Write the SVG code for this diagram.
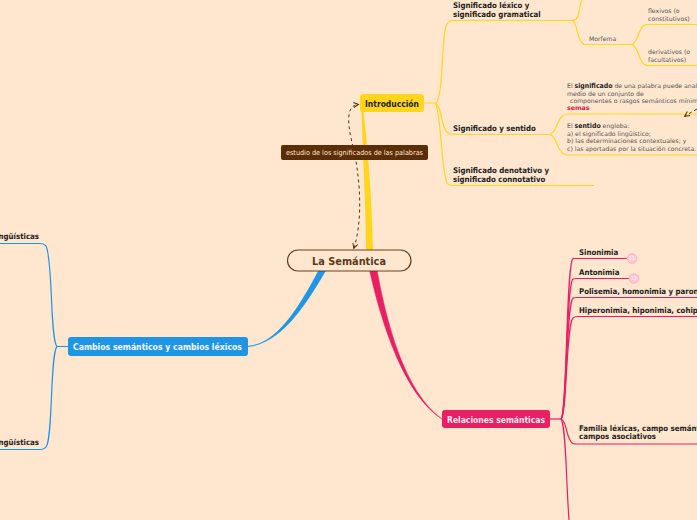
<svg xmlns="http://www.w3.org/2000/svg" width="697" height="520" viewBox="0 0 697 520">
<defs>
<marker id="arr" markerWidth="7" markerHeight="7" refX="5" refY="3" orient="auto-start-reverse" markerUnits="userSpaceOnUse"><path d="M0.5 0.500L5.500 3L0.500 5.500" fill="none" stroke="#5c2e07" stroke-width="1"/></marker>
</defs>
<style>
text{font-family:"DejaVu Sans",sans-serif}
.y{fill:none;stroke:#ffd61a;stroke-width:1.2}
.r{fill:none;stroke:#e91e63;stroke-width:1.2}
.b{fill:none;stroke:#1e96e8;stroke-width:1.2}
.h{font-family:"DejaVu Sans Condensed","DejaVu Sans",sans-serif;font-stretch:condensed;font-size:7.800px;font-weight:700;fill:#222}
.s{font-size:6.150px;fill:#555}
.sb{font-family:"DejaVu Sans Condensed","DejaVu Sans",sans-serif;font-stretch:condensed;font-size:6.900px;font-weight:700;fill:#222}
.badge{fill:#ffc8d6;stroke:#ffb0c6;stroke-width:1}
.bt{font-size:5px;fill:#fff;text-anchor:middle}
</style>
<rect width="697" height="520" fill="#ffe6cf"/>
<g id="connectors">
<path d="M361.500 112C363 160 366 210 366 252L373 252C372 200 368 150 363.500 112Z" fill="#ffd61a"/>
<path d="M326 270C306 304 282 343 248 346.500C276 344 298 310 319 270Z" fill="#1e96e8" stroke="#1e96e8" stroke-width="0.700"/>
<path d="M377 270C386 320 404 392 442 419C404 395 381 322 369.500 270Z" fill="#e91e63" stroke="#e91e63" stroke-width="0.500"/>
<path class="y" d="M424 103H435C444 103 441 30 447 24Q449 20.500 453 20.500H572C581 20.500 578 5 583 -2"/>
<path class="y" d="M435 103C442 105 441 128 447 132Q449 134.500 453 134.500H550"/>
<path class="y" d="M435 103C441 108 441 170 447 183Q449 185.500 453 185.500H594"/>
<path class="y" d="M572 20.500C578 22 576 40 584 44.500H632C640 40 638 24 648 24.500H697"/>
<path class="y" d="M632 44.500C640 48 638 65 648 65.500H697"/>
<path class="y" d="M550 134.500C558 132 556 115 568 114H697"/>
<path class="y" d="M550 134.500C558 137 556 154 568 155H697"/>
<path d="M550 419H561" class="r"/>
<path d="M561 419C567 415 566 264 573 258.500Q575 258.500 577 258.500H627" class="r"/>
<path d="M561 419C567 415 566 284 573 279Q575 278.500 577 278.500H629" class="r"/>
<path d="M561 419C567 415 566 305 573 298Q575 297.500 577 297.500H697" class="r"/>
<path d="M561 419C567 415 566 325 573 318Q575 316.500 577 316.500H697" class="r"/>
<path d="M561 419C567 420 566 440 573 443.500Q575 444 577 444H697" class="r"/>
<path d="M561 419C566 425 566 480 569 520" class="r"/>
<path class="b" d="M68 346.500H57C50 340 53 260 46 246Q44 243.500 40 243.500H0"/>
<path class="b" d="M57 346.500C50 353 53 440 46 447Q44 449.500 40 449.500H0"/>
<path d="M354 248C361 225 361 195 357 168C355 150 347 130 349 115C350 107 354 105 358 104.500" fill="none" stroke="#5c2e07" stroke-width="1" stroke-dasharray="3 3" marker-start="url(#arr)" marker-end="url(#arr)"/>
<path d="M697 109C692 112 688 114 685 116" fill="none" stroke="#5c2e07" stroke-width="1" stroke-dasharray="3 3" marker-end="url(#arr)"/>
</g>
<g id="central"><rect x="287.500" y="250" width="123.500" height="21" rx="10.500" fill="#ffe6cf" stroke="#6b3f1a" stroke-width="1.200"/><text x="349" y="264.500" text-anchor="middle" font-size="10.800" font-weight="700" fill="#5c3a1a" textLength="74" lengthAdjust="spacingAndGlyphs">La Semántica</text></g>
<g id="introduccion"><rect x="360" y="94" width="64" height="18" rx="3" fill="#ffd61a"/><text x="365" y="106.500" font-size="9.500" font-weight="700" fill="#222" textLength="54" lengthAdjust="spacingAndGlyphs">Introducción</text></g>
<g id="label"><rect x="281" y="145" width="147" height="15" rx="2" fill="#5c2e07"/><text x="286" y="155.200" font-size="7" fill="#ffe6cf" textLength="137" lengthAdjust="spacingAndGlyphs">estudio de los significados de las palabras</text></g>
<g id="relaciones"><rect x="442" y="410" width="108" height="18" rx="3" fill="#e91e63"/><text x="447" y="422.500" font-size="9.200" font-weight="700" fill="#ffe6ef" textLength="98" lengthAdjust="spacingAndGlyphs">Relaciones semánticas</text></g>
<g id="cambios"><rect x="68" y="337" width="180" height="19" rx="3" fill="#1e96e8"/><text x="73" y="349.500" font-size="9.200" font-weight="700" fill="#f2f9ff" textLength="169" lengthAdjust="spacingAndGlyphs">Cambios semánticos y cambios léxicos</text></g>
<g id="n1"><text class="h" x="453" y="8">Significado léxico y</text><text class="h" x="453" y="17">significado gramatical</text></g>
<g id="n2"><text class="h" x="453" y="130.500">Significado y sentido</text></g>
<g id="n3"><text class="h" x="453" y="173">Significado denotativo y</text><text class="h" x="453" y="182">significado connotativo</text></g>
<g id="n4"><text class="s" x="589" y="41">Morfema</text></g>
<g id="n5"><text class="s" x="648" y="13">flexivos (o</text><text class="s" x="648" y="21">constitutivos)</text></g>
<g id="n6"><text class="s" x="648" y="54">derivativos (o</text><text class="s" x="648" y="62">facultativos)</text></g>
<g id="n7"><text class="s" x="567" y="88"><tspan>El </tspan><tspan class="sb">significado</tspan><tspan> de una palabra puede analizarse por</tspan></text><text class="s" x="567" y="95.500">medio de un conjunto de</text><text class="s" x="570" y="102.500">componentes o rasgos semánticos mínimos, o</text><text x="567" y="110" font-size="6.300" font-weight="700" fill="#d81b50">semas</text></g>
<g id="n8"><text class="s" x="567" y="128"><tspan>El </tspan><tspan class="sb">sentido</tspan><tspan> engloba:</tspan></text><text class="s" x="567" y="136">a) el significado lingüístico;</text><text class="s" x="567" y="143">b) las determinaciones contextuales; y</text><text class="s" x="567" y="151">c) las aportadas por la situación concreta.</text></g>
<g id="n9"><text class="h" x="579" y="254.500">Sinonimia</text><circle class="badge" cx="632" cy="258.500" r="4.800"/><text class="bt" x="632" y="260.300">11</text></g>
<g id="n10"><text class="h" x="579" y="274.500">Antonimia</text><circle class="badge" cx="634" cy="278.500" r="4.800"/><text class="bt" x="634" y="280.300">11</text></g>
<g id="n11"><text class="h" x="579" y="294">Polisemia, homonimia y paronimia</text></g>
<g id="n12"><text class="h" x="579" y="313">Hiperonimia, hiponimia, cohiponimia</text></g>
<g id="n13"><text class="h" x="579" y="431">Familia léxicas, campo semántico y</text><text class="h" x="579" y="439">campos asociativos</text></g>
<g id="n14"><text class="h" x="39" y="239" text-anchor="end">lingüísticas</text></g>
<g id="n15"><text class="h" x="39" y="445" text-anchor="end">lingüísticas</text></g>
</svg>
